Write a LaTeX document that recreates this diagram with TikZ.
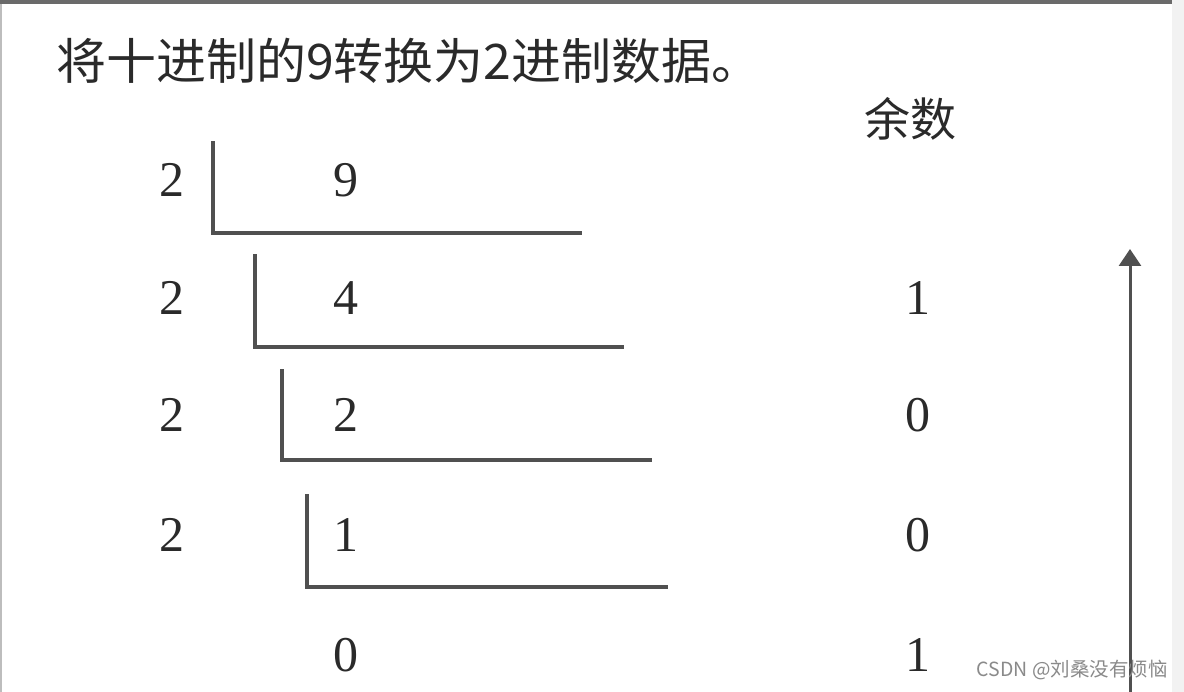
\documentclass[tikz,border=0pt]{standalone}
\usepackage{fontspec}
\setmainfont{Liberation Serif}
\newfontfamily\cjk{Noto Sans CJK SC}
\usetikzlibrary{arrows.meta}
\definecolor{ink}{HTML}{2A2A2A}
\definecolor{rule}{HTML}{505050}
\definecolor{topband}{HTML}{6A6A6A}
\definecolor{sideline}{HTML}{BDBDBD}
\definecolor{outside}{HTML}{F2F2F2}
\definecolor{wm}{HTML}{8A8A8A}
\tikzset{
  num/.style={font=\fontsize{50}{50}\selectfont, text=ink, inner sep=0pt, anchor=center},
  title/.style={font=\cjk\fontsize{49}{49}\selectfont, text=ink, inner sep=0pt},
  bracket/.style={draw=rule, line width=3.5pt, line cap=rect},
  uparrow/.style={draw=rule, line width=3pt, -{Triangle[length=17pt,width=22pt]}},
}
\begin{document}
\begin{tikzpicture}[x=1pt,y=-1pt]
\useasboundingbox (0,0) rectangle (1184,692);
\fill[white] (0,0) rectangle (1184,692);
\fill[outside] (1172,0) rectangle (1184,692);
\fill[sideline] (0,0) rectangle (1.5,692);
\fill[topband] (0,0) rectangle (1172,4.5);

\node[title, anchor=west, xscale=1.02] (t) at (56,61) {将十进制的9转换为2进制数据。};
\node[title, font=\cjk\fontsize{46}{46}\selectfont] (rem) at (910,119) {余数};

% divisors
\node[num] (d1) at (172,180) {2};
\node[num] (d2) at (172,298) {2};
\node[num] (d3) at (172,415) {2};
\node[num] (d4) at (172,535) {2};
% quotients
\node[num] (q1) at (346,180) {9};
\node[num] (q2) at (346,298) {4};
\node[num] (q3) at (346,415) {2};
\node[num] (q4) at (346,535) {1};
\node[num] (q5) at (346,655) {0};
% remainders
\node[num] (r1) at (918,298) {1};
\node[num] (r2) at (918,415) {0};
\node[num] (r3) at (918,535) {0};
\node[num] (r4) at (918,655) {1};

% brackets
\draw[bracket] (213,143) -- (213,233) -- (580,233);
\draw[bracket] (255,256) -- (255,347) -- (622,347);
\draw[bracket] (282,371) -- (282,460) -- (650,460);
\draw[bracket] (307,496) -- (307,587) -- (666,587);

% arrow
\coordinate (abot) at (1130,692);
\coordinate (atop) at (1130,249);
\draw[uparrow] (abot) -- (atop);

\node[font=\cjk\fontsize{19.5}{19.5}\selectfont, text=wm, inner sep=0pt, anchor=east] (wmk) at (1168,670) {CSDN @刘桑没有烦恼};
\end{tikzpicture}
\end{document}
